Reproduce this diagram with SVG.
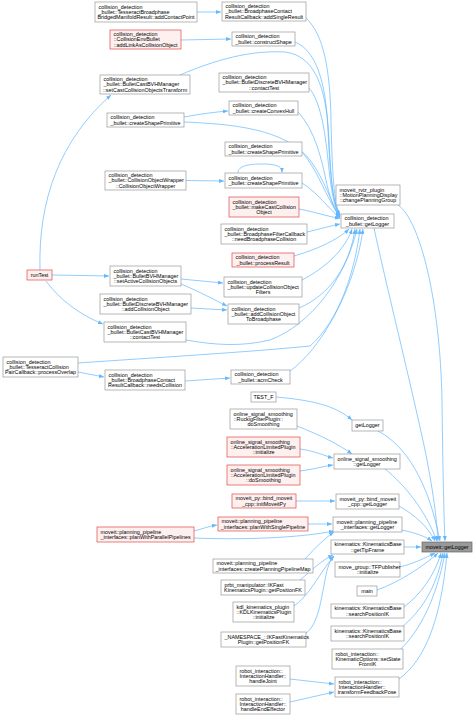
<svg xmlns="http://www.w3.org/2000/svg" width="474" height="716" viewBox="0 0 474 716">
<style>
.n{fill:#fff;stroke:#999;stroke-width:0.7}
.r{fill:#fff0f0;stroke:#e04848;stroke-width:0.7}
.m{fill:#999;stroke:#666;stroke-width:0.7}
text{font-family:"Liberation Sans",Arial,sans-serif;font-size:5.4px;fill:#000}
.c{text-anchor:middle}
#edges path{fill:none;stroke:#63b8ff;stroke-width:0.7;marker-end:url(#ah)}
</style>
<defs>
<marker id="ah" markerUnits="userSpaceOnUse" markerWidth="5" markerHeight="4" viewBox="0 0 5 4" refX="5" refY="2" orient="auto">
<path d="M0,0 L5,2 L0,4 z" fill="#63b8ff"/>
</marker>
</defs>
<rect width="474" height="716" fill="#fff"/>
<g id="edges">
<path d="M197,12 L221,12"/>
<path d="M181,40 L231,39"/>
<path d="M180,75 C215,60 250,50 285,52 C320,56 327,100 329,140 C331,180 333,205 340,215"/>
<path d="M306,18 C324,35 330,70 331,120 C332,170 334,205 340,215"/>
<path d="M295,42 C315,50 326,80 328,130 C330,175 333,206 340,215.5"/>
<path d="M309,88 C320,100 325,130 328,160 C331,190 334,208 340,216"/>
<path d="M298,112 C315,130 322,160 327,185 C331,200 334,210 340,216.5"/>
<path d="M302,152 C318,170 326,198 340,217"/>
<path d="M184,122 C230,124 285,128 310,160 C325,180 332,205 340,217.5"/>
<path d="M184,117 C200,114 215,112 228,111"/>
<path d="M238,173 C238,166 248,164 262,164 C276,164 282,166 282,172.5"/>
<path d="M302,183 C318,193 328,208 340,218"/>
<path d="M186,180.5 L224,181"/>
<path d="M299,209 C315,212 326,216 340,218.5"/>
<path d="M307,232 C320,229 330,226 340,224"/>
<path d="M294,256 C315,250 338,240 349,229"/>
<path d="M302,280 C325,268 345,250 352,229"/>
<path d="M299,308 C330,295 350,265 355,229"/>
<path d="M186,340 C215,345 240,347 270,340 C310,325 345,280 357,229"/>
<path d="M78,363 C150,358 250,352 310,346 C340,320 355,270 360,229"/>
<path d="M290,371 C320,350 355,290 363,229"/>
<path d="M40,270 C38,200 60,140 111,95"/>
<path d="M52,275 L109,276"/>
<path d="M46,281 C60,300 80,315 103,324"/>
<path d="M181,279 L223,283"/>
<path d="M181,284 C200,292 215,300 227,306"/>
<path d="M191,308 L227,310"/>
<path d="M78,372 L104,377"/>
<path d="M185,381 L230,378"/>
<path d="M276,397 C310,400 335,405 352,420"/>
<path d="M378,431 C405,445 428,480 440,541"/>
<path d="M297,426 C320,435 340,445 352,454"/>
<path d="M300,449 C315,451 325,456 333,458"/>
<path d="M300,471 C315,469 325,466 333,465"/>
<path d="M296,501 L335,501"/>
<path d="M308,524 L332,524"/>
<path d="M194,531 C205,528 210,526 217,525"/>
<path d="M194,538 C240,540 300,538 334,531"/>
<path d="M305,559 C315,548 325,538 334,532"/>
<path d="M300,580 C312,570 322,560 333,555"/>
<path d="M294,606 C310,595 318,575 334,556"/>
<path d="M306,633 C318,625 321,600 325,580 C327,568 330,560 334,556"/>
<path d="M290,679 L334,684"/>
<path d="M290,702 L334,692"/>
<path d="M398,205 C420,220 440,300 442,400 C443,480 444,520 445,541"/>
<path d="M374,228 C385,280 410,380 425,450 C435,500 437,525 438,541"/>
<path d="M385,469 C405,485 425,510 437,541"/>
<path d="M399,506 C415,515 428,527 435,541"/>
<path d="M402,530 C415,533 425,536 432,541"/>
<path d="M404,547 L421,547"/>
<path d="M400,567 C415,563 425,558 435,553"/>
<path d="M377,590 C400,582 425,565 438,553"/>
<path d="M404,607 C420,595 435,575 441,553"/>
<path d="M402,627 C420,612 436,590 443,553"/>
<path d="M400,650 C420,630 436,600 445,553"/>
<path d="M399,679 C425,660 441,620 447,553"/>
</g>
<g id="n1"><rect class="n" x="95" y="2" width="102" height="20"/><text x="98.5" y="8.6">collision_detection</text><text x="98.5" y="13.9">_bullet::TesseractBroadphase</text><text class="c" x="146" y="19.2">BridgedManifoldResult::addContactPoint</text></g>
<g id="n2"><rect class="r" x="110" y="30" width="71" height="19"/><text x="113.5" y="36.1">collision_detection</text><text x="113.5" y="41.4">::CollisionEnvBullet</text><text class="c" x="145.5" y="46.7">::addLinkAsCollisionObject</text></g>
<g id="n3"><rect class="n" x="100" y="75" width="90" height="19"/><text x="103.5" y="81.1">collision_detection</text><text x="103.5" y="86.4">_bullet::BulletCastBVHManager</text><text class="c" x="145" y="91.7">::setCastCollisionObjectsTransform</text></g>
<g id="n4"><rect class="n" x="107" y="113" width="77" height="14"/><text x="110.5" y="119.25">collision_detection</text><text class="c" x="145.5" y="124.55">_bullet::createShapePrimitive</text></g>
<g id="n5"><rect class="n" x="105" y="171" width="81" height="19"/><text x="108.5" y="177.1">collision_detection</text><text x="108.5" y="182.4">_bullet::CollisionObjectWrapper</text><text class="c" x="145.5" y="187.7">::CollisionObjectWrapper</text></g>
<g id="n6"><rect class="r" x="27" y="270" width="25" height="10"/><text class="c" x="39.5" y="276.9">runTest</text></g>
<g id="n7"><rect class="n" x="110" y="266" width="71" height="20"/><text x="113.5" y="272.6">collision_detection</text><text x="113.5" y="277.9">_bullet::BulletBVHManager</text><text class="c" x="145.5" y="283.2">::setActiveCollisionObjects</text></g>
<g id="n8"><rect class="n" x="100" y="294" width="91" height="20"/><text x="103.5" y="300.6">collision_detection</text><text x="103.5" y="305.9">_bullet::BulletDiscreteBVHManager</text><text class="c" x="145.5" y="311.2">::addCollisionObject</text></g>
<g id="n9"><rect class="n" x="104" y="322" width="82" height="20"/><text x="107.5" y="328.6">collision_detection</text><text x="107.5" y="333.9">_bullet::BulletCastBVHManager</text><text class="c" x="145" y="339.2">::contactTest</text></g>
<g id="n10"><rect class="n" x="3" y="357" width="75" height="20"/><text x="6.5" y="363.6">collision_detection</text><text x="6.5" y="368.9">_bullet::TesseractCollision</text><text class="c" x="40.5" y="374.2">PairCallback::processOverlap</text></g>
<g id="n11"><rect class="n" x="105" y="370" width="80" height="20"/><text x="108.5" y="376.6">collision_detection</text><text x="108.5" y="381.9">_bullet::BroadphaseContact</text><text class="c" x="145" y="387.2">ResultCallback::needsCollision</text></g>
<g id="n12"><rect class="r" x="97" y="527" width="97" height="15"/><text x="100.5" y="533.75">moveit::planning_pipeline</text><text class="c" x="145.5" y="539.05">_interfaces::planWithParallelPipelines</text></g>
<g id="n13"><rect class="n" x="222" y="2" width="84" height="19"/><text x="225.5" y="8.1">collision_detection</text><text x="225.5" y="13.4">_bullet::BroadphaseContact</text><text class="c" x="264" y="18.7">ResultCallback::addSingleResult</text></g>
<g id="n14"><rect class="n" x="232" y="32" width="63" height="14"/><text x="235.5" y="38.25">collision_detection</text><text class="c" x="263.5" y="43.55">_bullet::constructShape</text></g>
<g id="n15"><rect class="n" x="219" y="73" width="90" height="19"/><text x="222.5" y="79.1">collision_detection</text><text x="222.5" y="84.4">_bullet::BulletDiscreteBVHManager</text><text class="c" x="264" y="89.7">::contactTest</text></g>
<g id="n16"><rect class="n" x="229" y="101" width="69" height="14"/><text x="232.5" y="107.25">collision_detection</text><text class="c" x="263.5" y="112.55">_bullet::createConvexHull</text></g>
<g id="n17"><rect class="n" x="225" y="142" width="77" height="14"/><text x="228.5" y="148.25">collision_detection</text><text class="c" x="263.5" y="153.55">_bullet::createShapePrimitive</text></g>
<g id="n18"><rect class="n" x="225" y="173" width="77" height="15"/><text x="228.5" y="179.75">collision_detection</text><text class="c" x="263.5" y="185.05">_bullet::createShapePrimitive</text></g>
<g id="n19"><rect class="r" x="229" y="197" width="70" height="20"/><text x="232.5" y="203.6">collision_detection</text><text x="232.5" y="208.9">_bullet::makeCastCollision</text><text class="c" x="264" y="214.2">Object</text></g>
<g id="n20"><rect class="n" x="221" y="224" width="86" height="20"/><text x="224.5" y="230.6">collision_detection</text><text x="224.5" y="235.9">_bullet::BroadphaseFilterCallback</text><text class="c" x="264" y="241.2">::needBroadphaseCollision</text></g>
<g id="n21"><rect class="r" x="232" y="253" width="62" height="14"/><text x="235.5" y="259.25">collision_detection</text><text class="c" x="263" y="264.55">_bullet::processResult</text></g>
<g id="n22"><rect class="n" x="224" y="277" width="78" height="20"/><text x="227.5" y="283.6">collision_detection</text><text x="227.5" y="288.9">_bullet::updateCollisionObject</text><text class="c" x="263" y="294.2">Filters</text></g>
<g id="n23"><rect class="n" x="228" y="304" width="71" height="20"/><text x="231.5" y="310.6">collision_detection</text><text x="231.5" y="315.9">_bullet::addCollisionObject</text><text class="c" x="263.5" y="321.2">ToBroadphase</text></g>
<g id="n24"><rect class="n" x="231" y="370" width="59" height="14"/><text x="234.5" y="376.25">collision_detection</text><text class="c" x="260.5" y="381.55">_bullet::acmCheck</text></g>
<g id="n25"><rect class="n" x="251" y="392" width="25" height="10"/><text class="c" x="263.5" y="398.9">TEST_F</text></g>
<g id="n26"><rect class="n" x="230" y="409" width="67" height="20"/><text x="233.5" y="415.6">online_signal_smoothing</text><text x="233.5" y="420.9">::RuckigFilterPlugin::</text><text class="c" x="263.5" y="426.2">doSmoothing</text></g>
<g id="n27"><rect class="r" x="227" y="437" width="73" height="20"/><text x="230.5" y="443.6">online_signal_smoothing</text><text x="230.5" y="448.9">::AccelerationLimitedPlugin</text><text class="c" x="263.5" y="454.2">::initialize</text></g>
<g id="n28"><rect class="r" x="227" y="465" width="73" height="20"/><text x="230.5" y="471.6">online_signal_smoothing</text><text x="230.5" y="476.9">::AccelerationLimitedPlugin</text><text class="c" x="263.5" y="482.2">::doSmoothing</text></g>
<g id="n29"><rect class="r" x="232" y="494" width="64" height="14"/><text x="235.5" y="500.25">moveit_py::bind_moveit</text><text class="c" x="264" y="505.55">_cpp::initMoveitPy</text></g>
<g id="n30"><rect class="r" x="218" y="517" width="90" height="14"/><text x="221.5" y="523.25">moveit::planning_pipeline</text><text class="c" x="263" y="528.55">_interfaces::planWithSinglePipeline</text></g>
<g id="n31"><rect class="n" x="213" y="559" width="100" height="14"/><text x="216.5" y="565.25">moveit::planning_pipeline</text><text class="c" x="263" y="570.55">_interfaces::createPlanningPipelineMap</text></g>
<g id="n32"><rect class="n" x="221" y="580" width="84" height="15"/><text x="224.5" y="586.75">prbt_manipulator::IKFast</text><text class="c" x="263" y="592.05">KinematicsPlugin::getPositionFK</text></g>
<g id="n33"><rect class="n" x="233" y="602" width="61" height="20"/><text x="236.5" y="608.6">kdl_kinematics_plugin</text><text x="236.5" y="613.9">::KDLKinematicsPlugin</text><text class="c" x="263.5" y="619.2">::initialize</text></g>
<g id="n34"><rect class="n" x="221" y="632" width="85" height="15"/><text x="224.5" y="638.75">_NAMESPACE_::IKFastKinematics</text><text class="c" x="263.5" y="644.05">Plugin::getPositionFK</text></g>
<g id="n35"><rect class="n" x="236" y="666" width="54" height="20"/><text x="239.5" y="672.6">robot_interaction::</text><text x="239.5" y="677.9">InteractionHandler::</text><text class="c" x="263" y="683.2">handleJoint</text></g>
<g id="n36"><rect class="n" x="236" y="694" width="54" height="20"/><text x="239.5" y="700.6">robot_interaction::</text><text x="239.5" y="705.9">InteractionHandler::</text><text class="c" x="263" y="711.2">handleEndEffector</text></g>
<g id="n37"><rect class="n" x="336" y="185" width="64" height="20"/><text x="339.5" y="191.6">moveit_rviz_plugin</text><text x="339.5" y="196.9">::MotionPlanningDisplay</text><text class="c" x="368" y="202.2">::changePlanningGroup</text></g>
<g id="n38"><rect class="n" x="341" y="214" width="53" height="14"/><text x="344.5" y="220.25">collision_detection</text><text class="c" x="367.5" y="225.55">_bullet::getLogger</text></g>
<g id="n39"><rect class="n" x="352" y="420" width="31" height="11"/><text class="c" x="367.5" y="427.4">getLogger</text></g>
<g id="n40"><rect class="n" x="334" y="454" width="66" height="15"/><text x="337.5" y="460.75">online_signal_smoothing</text><text class="c" x="367" y="466.05">::getLogger</text></g>
<g id="n41"><rect class="n" x="336" y="494" width="63" height="15"/><text x="339.5" y="500.75">moveit_py::bind_moveit</text><text class="c" x="367.5" y="506.05">_cpp::getLogger</text></g>
<g id="n42"><rect class="n" x="333" y="517" width="69" height="15"/><text x="336.5" y="523.75">moveit::planning_pipeline</text><text class="c" x="367.5" y="529.05">_interfaces::getLogger</text></g>
<g id="n43"><rect class="n" x="331" y="540" width="73" height="14"/><text x="334.5" y="546.25">kinematics::KinematicsBase</text><text class="c" x="367.5" y="551.55">::getTipFrame</text></g>
<g id="n44"><rect class="n" x="335" y="562" width="65" height="15"/><text x="338.5" y="568.75">move_group::TFPublisher</text><text class="c" x="367.5" y="574.05">::initialize</text></g>
<g id="n45"><rect class="n" x="357" y="586" width="20" height="10"/><text class="c" x="367" y="592.9">main</text></g>
<g id="n46"><rect class="n" x="331" y="604" width="73" height="14"/><text x="334.5" y="610.25">kinematics::KinematicsBase</text><text class="c" x="367.5" y="615.55">::searchPositionIK</text></g>
<g id="n47"><rect class="n" x="331" y="626" width="73" height="15"/><text x="334.5" y="632.75">kinematics::KinematicsBase</text><text class="c" x="367.5" y="638.05">::searchPositionIK</text></g>
<g id="n48"><rect class="n" x="332" y="649" width="71" height="20"/><text x="335.5" y="655.6">robot_interaction::</text><text x="335.5" y="660.9">KinematicOptions::setState</text><text class="c" x="367.5" y="666.2">FromIK</text></g>
<g id="n49"><rect class="n" x="335" y="677" width="64" height="20"/><text x="338.5" y="683.6">robot_interaction::</text><text x="338.5" y="688.9">InteractionHandler::</text><text class="c" x="367" y="694.2">transformFeedbackPose</text></g>
<g id="n50"><rect class="m" x="422" y="542" width="50" height="10"/><text class="c" x="447" y="548.9">moveit::getLogger</text></g>
</svg>
